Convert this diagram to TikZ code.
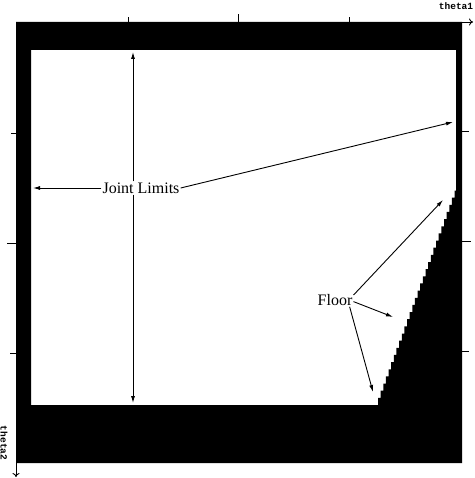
\documentclass[tikz,border=0pt]{standalone}
\usepackage{fontspec}
\setmainfont{Liberation Serif}
\newfontfamily\axisfont{Liberation Mono}
\usetikzlibrary{arrows.meta}
\tikzset{
  lbl/.style={font=\fontsize{16}{18}\selectfont, inner sep=1pt},
  axlbl/.style={font=\axisfont\bfseries\fontsize{9.5}{10}\selectfont, inner sep=0pt},
  pt/.style={-{Latex[length=7pt,width=4pt]}, line width=0.9pt},
  axis/.style={-{To[length=4pt,width=7pt]}, line width=0.9pt},
}

\begin{document}
\begin{tikzpicture}[x=1pt,y=-1pt]
  \useasboundingbox (0,0) rectangle (474,478);
  % configuration space: joint limit band and floor obstacle
  \fill [even odd rule] (16,22) rectangle (462,463) (31,50) rectangle (456,405);
  \fill (378,405) \foreach \i in {0,...,29} { -- ++(0,-7.15) -- ++(2.64,0) } -- (458,405) -- cycle;
  % axes
  \coordinate (O) at (16,22);
  \coordinate (XE) at (473,22);
  \coordinate (YE) at (16,477);
  \draw [axis] (O) -- (XE);
  \draw [axis] (O) -- (YE);
  \draw [line width=0.9pt] (128,22) -- (128,17) (238,22) -- (238,14) (349,22) -- (349,17);
  \draw [line width=0.9pt] (16,133) -- (11,133) (16,243) -- (7,243) (16,353) -- (10,353);
  \draw [line width=0.9pt] (462,131) -- (469,131) (462,241) -- (471,241) (462,351) -- (469,351);
  \node [axlbl] (T1) at (456,6) {theta1};
  \node [axlbl, rotate=-90] (T2) at (4,443) {theta2};
  % labels
  \node [lbl] (JL) at (141,188) {Joint Limits};
  \node [lbl] (FL) at (335,300) {Floor};
  \coordinate (jtop) at (133,52);
  \coordinate (jbot) at (133,403);
  \coordinate (jleft) at (33,188);
  \coordinate (jright) at (453,122);
  \coordinate (f1) at (443,200);
  \coordinate (f2) at (393,317);
  \coordinate (f3) at (373,392);
  \draw [pt] (jtop |- JL.north) -- (jtop);
  \draw [pt] (jbot |- JL.south) -- (jbot);
  \draw [pt] (JL.west) -- (jleft);
  \draw [pt] (JL.east) -- (jright);
  \draw [pt] (FL.15) -- (f1);
  \draw [pt] (FL.-5) -- (f2);
  \draw [pt] (FL.-25) -- (f3);
\end{tikzpicture}
\end{document}
